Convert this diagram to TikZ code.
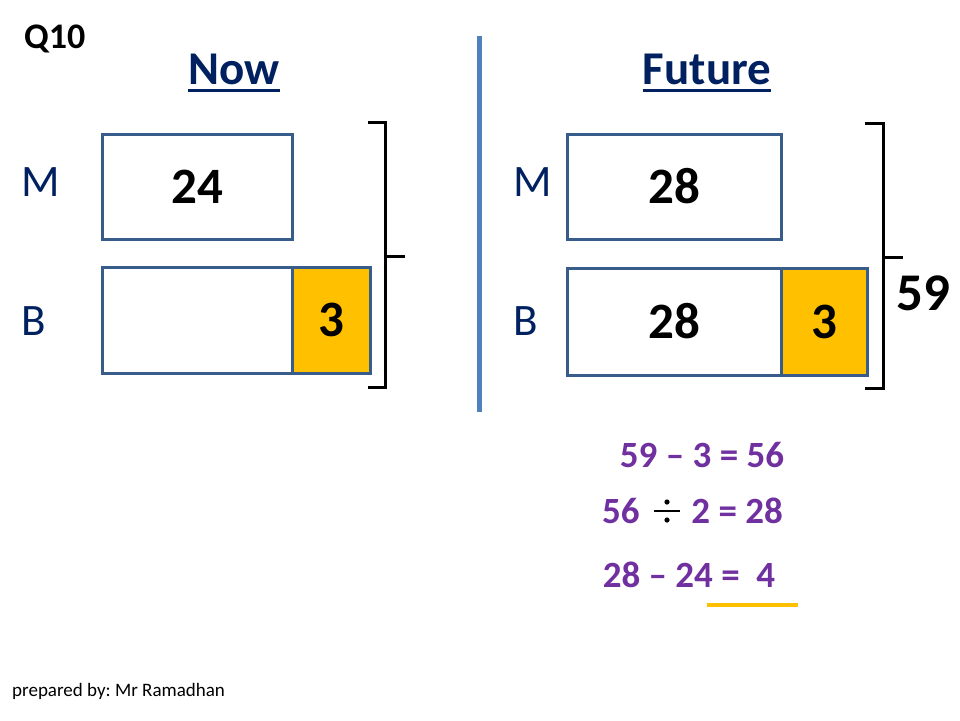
\documentclass[tikz,border=0pt]{standalone}
\usepackage{fontspec}
\setmainfont{Carlito}
\usetikzlibrary{calc}
\definecolor{navy}{HTML}{002060}
\definecolor{boxline}{HTML}{385D8A}
\definecolor{gold}{HTML}{FFC000}
\definecolor{purp}{HTML}{7030A0}
\definecolor{divblue}{HTML}{4F81BD}
\newcommand{\fsz}[1]{\fontsize{#1}{#1}\selectfont}
\frenchspacing
\begin{document}
\begin{tikzpicture}[x=1pt,y=-1pt,
  barbox/.style={draw=boxline, line width=3pt, inner sep=0pt, outer sep=0pt, anchor=north west, font=\fsz{51}\bfseries},
  goldbox/.style={barbox, fill=gold},
  letter/.style={anchor=base, inner sep=0pt, text=navy, font=\fsz{45}},
  heading/.style={anchor=base, inner sep=0pt, text=navy, font=\fsz{47}\bfseries},
  uline/.style={draw=navy, line width=3pt},
  brace/.style={draw=black, line width=3pt},
  eqn/.style={inner sep=0pt, text=purp, font=\fsz{37}\bfseries},
  bignum/.style={anchor=base, inner sep=0pt, font=\fsz{53}\bfseries}
]
\useasboundingbox (0,0) rectangle (960,720);

% title
\node[anchor=base west, inner sep=0pt, font=\fsz{36}\bfseries] (q10) at (24,48) {Q10};

% headings
\node[heading] (now) at (234,84) {Now};
\draw[uline] ($(now.base west)+(0,6)$) -- ($(now.base east)+(0,6)$);
\node[heading] (future) at (707,84) {Future};
\draw[uline] ($(future.base west)+(0,6)$) -- ($(future.base east)+(0,6)$);

% divider
\coordinate (dtop) at (479,36);
\coordinate (dbot) at (479,412);
\draw[draw=divblue, line width=5pt] (dtop) -- (dbot);

% left side
\node[letter] (lm) at (41,196) {M};
\node[letter] (lb) at (34,335) {B};
\node[barbox, minimum width=190pt, minimum height=105pt] (lmbox) at (102,134) {24};
\node[barbox, minimum width=190pt, minimum height=106pt] (lbbox) at (102,267) {};
\node[goldbox, minimum width=78pt, minimum height=106pt] (lbgold) at (292,267) {3};
\coordinate (lbt1) at (368,122);
\coordinate (lbt2) at (385,122);
\coordinate (lbb1) at (368,387);
\coordinate (lbb2) at (385,387);
\coordinate (lbm1) at (385,256);
\coordinate (lbm2) at (405,256);
\draw[brace] (lbt1) -- (lbt2) -- (lbb2) -- (lbb1);
\draw[brace] (lbm1) -- (lbm2);

% right side
\node[letter] (rm) at (533,196) {M};
\node[letter] (rb) at (526,335) {B};
\node[barbox, minimum width=214pt, minimum height=105pt] (rmbox) at (567,134) {28};
\node[barbox, minimum width=214pt, minimum height=107pt] (rbbox) at (567,268) {28};
\node[goldbox, minimum width=86pt, minimum height=107pt] (rbgold) at (781,268) {3};
\coordinate (rbt1) at (865,123);
\coordinate (rbt2) at (883,123);
\coordinate (rbb1) at (865,388);
\coordinate (rbb2) at (883,388);
\coordinate (rbm1) at (883,257);
\coordinate (rbm2) at (903,257);
\draw[brace] (rbt1) -- (rbt2) -- (rbb2) -- (rbb1);
\draw[brace] (rbm1) -- (rbm2);
\node[bignum] (total) at (923,310) {59};

% equations
\node[eqn, anchor=base] (eq1) at (702,467) {59 – 3 = 56};
\node[eqn, anchor=base west] (eq2a) at (602,523) {56};
\coordinate (divl) at (654,511);
\coordinate (divr) at (680,511);
\coordinate (divt) at (667,502);
\coordinate (divb) at (667,520);
\draw[line width=2.5pt] (divl) -- (divr);
\fill (divt) circle (2.6pt);
\fill (divb) circle (2.6pt);
\node[eqn, anchor=base east] (eq2b) at (783,523) {2 = 28};
\node[eqn, anchor=base] (eq3) at (689,587) {28 – 24 =~~4};
\coordinate (ans1) at (707,605);
\coordinate (ans2) at (798,605);
\draw[draw=gold, line width=4pt] (ans1) -- (ans2);

% footer
\node[anchor=base west, inner sep=0pt, font=\fsz{19}] (credit) at (12,696) {prepared by: Mr Ramadhan};
\end{tikzpicture}
\end{document}
